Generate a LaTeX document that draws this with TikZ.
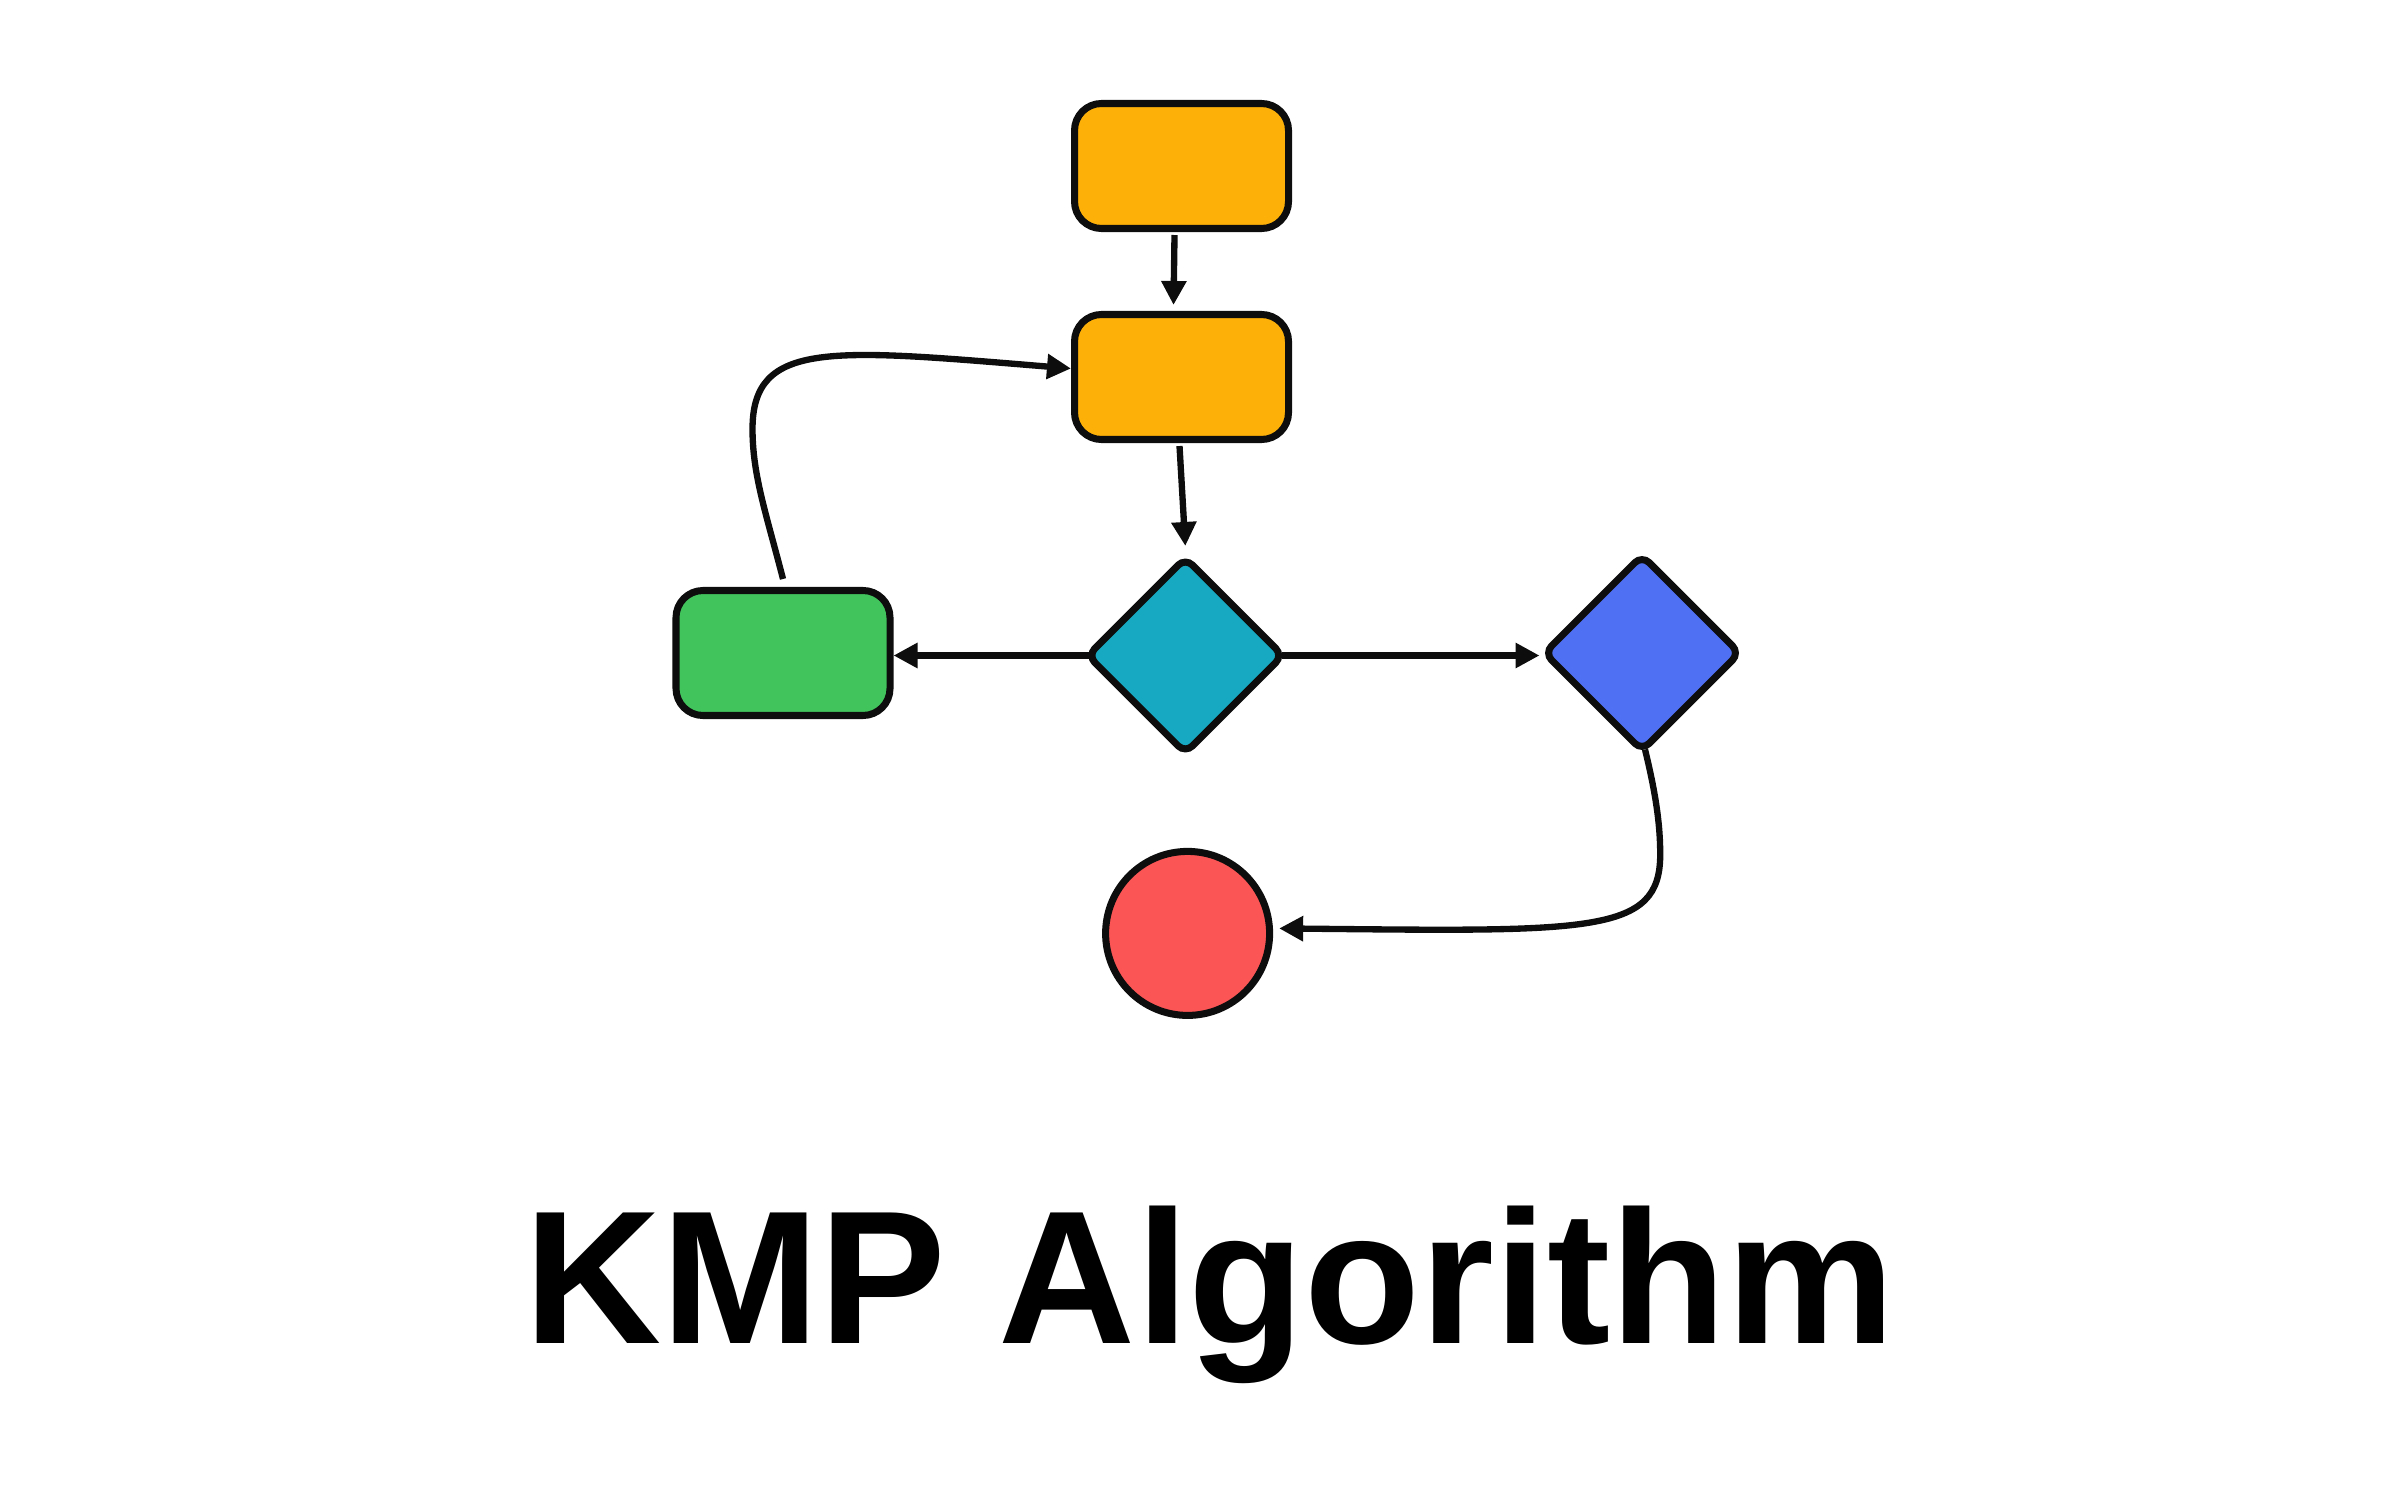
\documentclass[tikz,border=0pt]{standalone}
\usepackage{fontspec}
\setmainfont{Liberation Sans}
\usetikzlibrary{arrows.meta,shapes.geometric}

\definecolor{kmpOrange}{HTML}{FDB007}
\definecolor{kmpGreen}{HTML}{42C45C}
\definecolor{kmpTeal}{HTML}{17A9C1}
\definecolor{kmpBlue}{HTML}{4F70F2}
\definecolor{kmpRed}{HTML}{FB5555}

\tikzset{
    procbox/.style={draw=black!95, line width=2pt, rounded corners=0.27cm, inner sep=0pt,
        minimum width=2.14cm, minimum height=1.25cm},
    decision/.style={draw=black!95, line width=2pt, diamond, aspect=1, rounded corners=0.1cm,
        inner sep=0pt, minimum width=1.98cm, minimum height=1.98cm},
    stopdot/.style={draw=black!95, line width=2pt, circle, inner sep=0pt, minimum size=1.64cm},
    flow/.style={draw=black!95, line width=1.8pt, -{Triangle[length=0.24cm,width=0.24cm]}}
}

\begin{document}
\begin{tikzpicture}
    \useasboundingbox (0,0) rectangle (24,15);
    % Boxes and decisions
    \node[procbox, fill=kmpOrange] (start) at (11.815,13.34) {};
    \node[procbox, fill=kmpOrange] (loop) at (11.815,11.23) {};
    \node[procbox, fill=kmpGreen] (shift) at (7.83,8.47) {};
    \node[decision, fill=kmpTeal] (match) at (11.853,8.445) {};
    \node[decision, fill=kmpBlue] (done) at (16.42,8.47) {};
    \node[stopdot, fill=kmpRed] (stop) at (11.876,5.666) {};
    % Connectors
    \draw[flow] ([xshift=-0.07cm,yshift=-0.03cm]start.south) -- ([xshift=-0.08cm,yshift=0.06cm]loop.north);
    \draw[flow] ([xshift=-0.02cm,yshift=-0.03cm]loop.south) -- ([yshift=0.07cm]match.north);
    \draw[flow] ([xshift=0.06cm]match.west) -- (match.west -| shift.east);
    \draw[flow] ([xshift=-0.06cm]match.east) -- (match.east -| done.west);
    \draw[flow] ([yshift=0.08cm]shift.north) .. controls (7.66,9.87) and (7.525,10.25) .. (7.525,10.71)
        .. controls (7.525,11.605) and (8.325,11.51) .. ([yshift=0.085cm]loop.west);
    \draw[flow] ([xshift=0.03cm,yshift=0.06cm]done.south) .. controls (16.556,7.07) and (16.602,6.76) .. (16.602,6.455)
        .. controls (16.602,5.655) and (15.91,5.685) .. ([xshift=0.06cm,yshift=0.05cm]stop.east);
    % Title
    \node[font=\fontsize{54}{54}\selectfont\bfseries, inner sep=0pt, anchor=base] (title) at (12.10,1.567) {KMP Algorithm};
\end{tikzpicture}
\end{document}
